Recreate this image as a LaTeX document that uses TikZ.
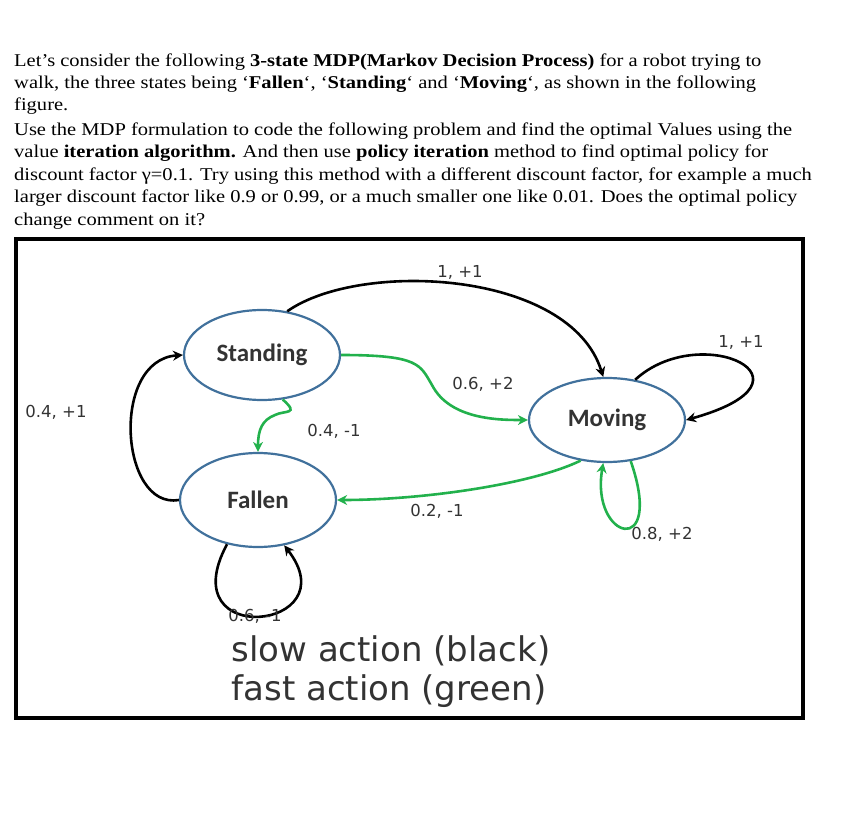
\documentclass[tikz,border=0pt]{standalone}
\usepackage{fontspec}
\setmainfont[FakeStretch=1.14]{Liberation Serif}
\newfontfamily\lab{DejaVu Sans}
\newfontfamily\stfont{Carlito}
\usetikzlibrary{arrows.meta,shapes.geometric}
\definecolor{sblue}{HTML}{41719C}
\definecolor{sgreen}{HTML}{22B14C}
\tikzset{
  st/.style={ellipse, draw=sblue, line width=2.2pt, minimum width=156pt, minimum height=90pt, font=\stfont\fontsize{25}{30}\selectfont\bfseries, text=black!80},
  tl/.style={anchor=base west, inner sep=0, font=\fontsize{18}{20}\selectfont},
  el/.style={font=\lab\fontsize{16.5}{20}\selectfont, text=black!80},
  blk/.style={line width=2.6pt, -{Stealth[length=10pt,width=10pt]}},
  grn/.style={line width=2.6pt, draw=sgreen, -{Stealth[length=10pt,width=10pt]}, sgreen},
}
\begin{document}
\begin{tikzpicture}[x=1pt,y=-1pt]
\useasboundingbox (0,0) rectangle (864,829);
\node[tl] (t1) at (14,67) {Let’s consider the following \textbf{3-state MDP(Markov Decision Process)} for a robot trying to};
\node[tl] (t2) at (14,89) {walk, the three states being ‘\textbf{Fallen}‘, ‘\textbf{Standing}‘ and ‘\textbf{Moving}‘, as shown in the following};
\node[tl] (t3) at (14,111) {figure.};
\node[tl] (t4) at (14,136) {Use the MDP formulation to code the following problem and find the optimal Values using the};
\node[tl] (t5) at (14,158) {value \textbf{iteration algorithm.} And then use \textbf{policy iteration} method to find optimal policy for};
\node[tl] (t6) at (14,181) {discount factor γ=0.1. Try using this method with a different discount factor, for example a much};
\node[tl] (t7) at (14,203) {larger discount factor like 0.9 or 0.99, or a much smaller one like 0.01. Does the optimal policy};
\node[tl] (t8) at (14,225) {change comment on it?};
\draw[line width=4pt] (16,239) rectangle (803,718);
\node[st] (S) at (262,355) {Standing};
\node[st, minimum height=94pt] (F) at (258,500) {Fallen};
\node[st, minimum height=84pt] (M) at (607,420) {Moving};
% black
\draw[blk] (S.60) .. controls (360,260) and (570,270) .. (M.95);
\draw[blk] (F.west) .. controls (120,510) and (110,360) .. (S.west);
\draw[blk] (F.235) .. controls (170,650) and (350,630) .. (F.300);
\draw[blk] (M.55) .. controls (700,320) and (830,380) .. (M.east);
% green
\draw[grn] (S.east) .. controls (420,355) and (420,365) .. (432,385) .. controls (450,420) and (500,420) .. (M.west);
\draw[grn] (S.295) .. controls (300,415) and (285,410) .. (275,415) .. controls (262,420) and (258,430) .. (F.north);
\draw[grn] (M.237) .. controls (530,485) and (420,500) .. (F.east);
\draw[grn] (M.300) .. controls (665,560) and (590,540) .. (M.265);
% labels
\node[el] (l1) at (460,272) {1, +1};
\node[el] (l2) at (741,342) {1, +1};
\node[el] (l3) at (483,384) {0.6, +2};
\node[el] (l4) at (334,431) {0.4, -1};
\node[el] (l5) at (56,412) {0.4, +1};
\node[el] (l6) at (437,511) {0.2, -1};
\node[el] (l7) at (662,534) {0.8, +2};
\node[el] (l8) at (255,616) {0.6, -1};
\node[el, anchor=base west, font=\lab\fontsize{34}{36}\selectfont] (g1) at (228,661) {slow action (black)};
\node[el, anchor=base west, font=\lab\fontsize{34}{36}\selectfont] (g2) at (228,700) {fast action (green)};
\end{tikzpicture}
\end{document}
